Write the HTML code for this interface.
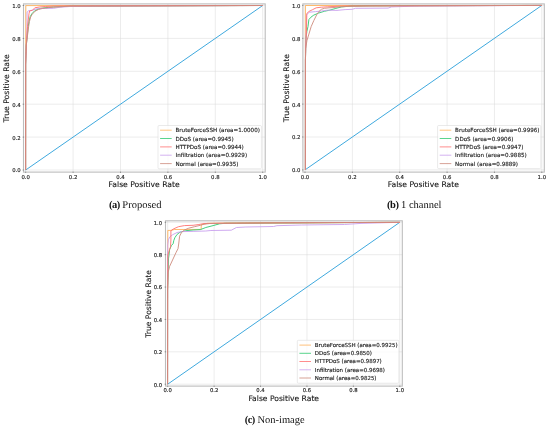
<!DOCTYPE html>
<html><head><meta charset="utf-8"><title>ROC curves</title>
<style>
html,body{margin:0;padding:0;background:#fff;}
body{width:550px;height:429px;position:relative;overflow:hidden;}
svg{position:absolute;left:0;top:0;filter:blur(0.35px);}
svg text{text-rendering:geometricPrecision;font-family:"DejaVu Sans","Liberation Sans",sans-serif;stroke:#222;stroke-width:0.14px;}svg text.lab{stroke-width:0.1px}
.cap{position:absolute;text-rendering:geometricPrecision;text-align:center;font-family:"Liberation Serif","DejaVu Serif",serif;font-size:10.5px;line-height:12px;color:#111;white-space:nowrap;letter-spacing:0px}
.cap b{letter-spacing:-0.5px}
</style></head><body>
<svg width="550" height="429" viewBox="0 0 550 429">
<line x1="25.70" y1="3.90" x2="25.70" y2="172.10" stroke="#d9d9d9" stroke-width="0.5"/>
<line x1="23.50" y1="170.00" x2="265.20" y2="170.00" stroke="#d9d9d9" stroke-width="0.5"/>
<line x1="73.10" y1="3.90" x2="73.10" y2="172.10" stroke="#d9d9d9" stroke-width="0.5"/>
<line x1="23.50" y1="137.10" x2="265.20" y2="137.10" stroke="#d9d9d9" stroke-width="0.5"/>
<line x1="120.50" y1="3.90" x2="120.50" y2="172.10" stroke="#d9d9d9" stroke-width="0.5"/>
<line x1="23.50" y1="104.20" x2="265.20" y2="104.20" stroke="#d9d9d9" stroke-width="0.5"/>
<line x1="167.90" y1="3.90" x2="167.90" y2="172.10" stroke="#d9d9d9" stroke-width="0.5"/>
<line x1="23.50" y1="71.30" x2="265.20" y2="71.30" stroke="#d9d9d9" stroke-width="0.5"/>
<line x1="215.30" y1="3.90" x2="215.30" y2="172.10" stroke="#d9d9d9" stroke-width="0.5"/>
<line x1="23.50" y1="38.40" x2="265.20" y2="38.40" stroke="#d9d9d9" stroke-width="0.5"/>
<line x1="262.70" y1="3.90" x2="262.70" y2="172.10" stroke="#d9d9d9" stroke-width="0.5"/>
<line x1="23.50" y1="5.50" x2="265.20" y2="5.50" stroke="#d9d9d9" stroke-width="0.5"/>
<line x1="25.70" y1="170.00" x2="262.70" y2="5.50" stroke="#3fa9de" stroke-width="1.0"/>
<polyline points="25.60,170.00 25.65,64.00 25.80,30.00 25.80,5.60 120.00,5.60 262.70,5.50" fill="none" stroke="#ffb25c" stroke-width="0.9" stroke-linejoin="round"/>
<polyline points="25.60,170.00 25.65,64.00 26.30,45.00 28.20,26.50 29.00,21.20 30.20,16.60 31.90,13.70 34.80,10.70 38.30,9.00 42.40,8.10 48.20,7.40 53.50,7.00 70.00,6.20 262.70,5.50" fill="none" stroke="#2fca6e" stroke-width="0.9" stroke-linejoin="round"/>
<polyline points="25.60,170.00 25.65,64.00 26.30,45.00 27.00,30.00 27.10,12.00 28.70,10.70 32.50,10.20 36.00,9.00 39.50,8.40 45.30,8.50 53.50,8.30 60.00,7.20 70.00,6.50 100.00,6.10 262.70,5.50" fill="none" stroke="#c9a0ee" stroke-width="0.9" stroke-linejoin="round"/>
<polyline points="25.60,170.00 25.65,64.00 26.30,45.00 27.50,26.50 29.00,13.70 29.60,11.00 32.50,10.20 34.80,7.80 39.50,7.00 45.30,6.50 53.50,6.10 70.00,5.90 262.70,5.50" fill="none" stroke="#ff7070" stroke-width="0.9" stroke-linejoin="round"/>
<polyline points="25.60,170.00 25.65,64.00 26.30,45.00 28.60,26.90 29.45,21.60 30.65,17.00 32.30,14.15 35.20,11.15 38.70,9.40 42.70,8.45 48.40,7.60 53.70,7.15 70.00,6.20 262.70,5.50" fill="none" stroke="#cd8a7c" stroke-width="0.9" stroke-linejoin="round"/>
<rect x="23.50" y="3.90" width="241.70" height="168.20" fill="none" stroke="#bcbcbc" stroke-width="1.1"/>
<line x1="25.70" y1="171.60" x2="25.70" y2="173.00" stroke="#555" stroke-width="0.5"/>
<line x1="22.60" y1="170.00" x2="24.00" y2="170.00" stroke="#555" stroke-width="0.5"/>
<text x="25.70" y="178.50" font-size="5.35" text-anchor="middle" fill="#222">0.0</text>
<text x="20.70" y="172.43" font-size="5.35" text-anchor="end" fill="#222">0.0</text>
<line x1="73.10" y1="171.60" x2="73.10" y2="173.00" stroke="#555" stroke-width="0.5"/>
<line x1="22.60" y1="137.10" x2="24.00" y2="137.10" stroke="#555" stroke-width="0.5"/>
<text x="73.10" y="178.50" font-size="5.35" text-anchor="middle" fill="#222">0.2</text>
<text x="20.70" y="139.53" font-size="5.35" text-anchor="end" fill="#222">0.2</text>
<line x1="120.50" y1="171.60" x2="120.50" y2="173.00" stroke="#555" stroke-width="0.5"/>
<line x1="22.60" y1="104.20" x2="24.00" y2="104.20" stroke="#555" stroke-width="0.5"/>
<text x="120.50" y="178.50" font-size="5.35" text-anchor="middle" fill="#222">0.4</text>
<text x="20.70" y="106.63" font-size="5.35" text-anchor="end" fill="#222">0.4</text>
<line x1="167.90" y1="171.60" x2="167.90" y2="173.00" stroke="#555" stroke-width="0.5"/>
<line x1="22.60" y1="71.30" x2="24.00" y2="71.30" stroke="#555" stroke-width="0.5"/>
<text x="167.90" y="178.50" font-size="5.35" text-anchor="middle" fill="#222">0.6</text>
<text x="20.70" y="73.73" font-size="5.35" text-anchor="end" fill="#222">0.6</text>
<line x1="215.30" y1="171.60" x2="215.30" y2="173.00" stroke="#555" stroke-width="0.5"/>
<line x1="22.60" y1="38.40" x2="24.00" y2="38.40" stroke="#555" stroke-width="0.5"/>
<text x="215.30" y="178.50" font-size="5.35" text-anchor="middle" fill="#222">0.8</text>
<text x="20.70" y="40.83" font-size="5.35" text-anchor="end" fill="#222">0.8</text>
<line x1="262.70" y1="171.60" x2="262.70" y2="173.00" stroke="#555" stroke-width="0.5"/>
<line x1="22.60" y1="5.50" x2="24.00" y2="5.50" stroke="#555" stroke-width="0.5"/>
<text x="262.70" y="178.50" font-size="5.35" text-anchor="middle" fill="#222">1.0</text>
<text x="20.70" y="7.93" font-size="5.35" text-anchor="end" fill="#222">1.0</text>
<text x="144.20" y="186.60" font-size="7.66" class="lab" text-anchor="middle" fill="#111">False Positive Rate</text>
<text transform="translate(9.00,88.35) rotate(-90)" font-size="7.66" class="lab" text-anchor="middle" fill="#111">True Positive Rate</text>
<rect x="158.00" y="125.50" width="103.40" height="43.30" rx="1" fill="#ffffff" fill-opacity="0.8" stroke="#d4d4d4" stroke-width="0.5"/>
<line x1="160.10" y1="130.20" x2="171.70" y2="130.20" stroke="#ffb25c" stroke-width="0.8"/>
<text x="175.50" y="132.21" font-size="5.58" fill="#222">BruteForceSSH (area=1.0000)</text>
<line x1="160.10" y1="138.50" x2="171.70" y2="138.50" stroke="#2fca6e" stroke-width="0.8"/>
<text x="175.50" y="140.51" font-size="5.58" fill="#222">DDoS (area=0.9945)</text>
<line x1="160.10" y1="146.90" x2="171.70" y2="146.90" stroke="#ff7070" stroke-width="0.8"/>
<text x="175.50" y="148.91" font-size="5.58" fill="#222">HTTPDoS (area=0.9944)</text>
<line x1="160.10" y1="155.20" x2="171.70" y2="155.20" stroke="#c9a0ee" stroke-width="0.8"/>
<text x="175.50" y="157.21" font-size="5.58" fill="#222">Infiltration (area=0.9929)</text>
<line x1="160.10" y1="163.60" x2="171.70" y2="163.60" stroke="#cd8a7c" stroke-width="0.8"/>
<text x="175.50" y="165.61" font-size="5.58" fill="#222">Normal (area=0.9935)</text>
<line x1="305.00" y1="3.90" x2="305.00" y2="172.10" stroke="#d9d9d9" stroke-width="0.5"/>
<line x1="302.90" y1="169.90" x2="544.30" y2="169.90" stroke="#d9d9d9" stroke-width="0.5"/>
<line x1="352.36" y1="3.90" x2="352.36" y2="172.10" stroke="#d9d9d9" stroke-width="0.5"/>
<line x1="302.90" y1="137.00" x2="544.30" y2="137.00" stroke="#d9d9d9" stroke-width="0.5"/>
<line x1="399.72" y1="3.90" x2="399.72" y2="172.10" stroke="#d9d9d9" stroke-width="0.5"/>
<line x1="302.90" y1="104.10" x2="544.30" y2="104.10" stroke="#d9d9d9" stroke-width="0.5"/>
<line x1="447.08" y1="3.90" x2="447.08" y2="172.10" stroke="#d9d9d9" stroke-width="0.5"/>
<line x1="302.90" y1="71.20" x2="544.30" y2="71.20" stroke="#d9d9d9" stroke-width="0.5"/>
<line x1="494.44" y1="3.90" x2="494.44" y2="172.10" stroke="#d9d9d9" stroke-width="0.5"/>
<line x1="302.90" y1="38.30" x2="544.30" y2="38.30" stroke="#d9d9d9" stroke-width="0.5"/>
<line x1="541.80" y1="3.90" x2="541.80" y2="172.10" stroke="#d9d9d9" stroke-width="0.5"/>
<line x1="302.90" y1="5.40" x2="544.30" y2="5.40" stroke="#d9d9d9" stroke-width="0.5"/>
<line x1="305.00" y1="169.90" x2="541.80" y2="5.40" stroke="#3fa9de" stroke-width="1.0"/>
<polyline points="305.40,169.90 305.45,60.00 305.40,30.00 305.40,5.50 400.00,5.50 541.80,5.40" fill="none" stroke="#ffb25c" stroke-width="0.9" stroke-linejoin="round"/>
<polyline points="305.40,169.90 305.45,60.00 305.70,48.30 306.00,38.00 306.90,31.50 308.00,26.50 308.90,19.50 310.90,17.20 313.80,15.10 318.50,13.10 324.30,11.30 330.00,10.10 335.80,8.40 341.60,6.90 351.00,6.10 365.00,5.90 541.80,5.40" fill="none" stroke="#2fca6e" stroke-width="0.9" stroke-linejoin="round"/>
<polyline points="305.40,169.90 305.45,60.00 305.70,48.30 306.30,30.00 306.40,15.40 307.40,13.70 309.70,12.20 315.60,11.60 321.40,11.00 327.20,10.20 333.00,10.30 337.00,10.40 345.10,9.60 352.10,9.30 355.60,8.30 388.10,8.10 391.60,6.90 416.00,6.10 541.80,5.40" fill="none" stroke="#c9a0ee" stroke-width="0.9" stroke-linejoin="round"/>
<polyline points="305.40,169.90 305.45,60.00 305.70,48.30 306.50,30.00 306.80,13.70 308.60,11.60 312.70,9.60 316.20,7.80 321.40,7.20 327.20,6.80 333.00,6.50 345.00,6.00 541.80,5.40" fill="none" stroke="#ff7070" stroke-width="0.9" stroke-linejoin="round"/>
<polyline points="305.40,169.90 305.45,60.00 305.70,48.30 306.90,40.80 308.30,36.10 311.20,26.50 313.80,20.60 316.70,14.80 319.10,11.30 321.40,9.30 324.30,8.30 329.00,7.80 333.00,7.60 338.20,7.00 349.00,6.30 370.00,5.90 541.80,5.40" fill="none" stroke="#cd8a7c" stroke-width="0.9" stroke-linejoin="round"/>
<rect x="302.90" y="3.90" width="241.40" height="168.20" fill="none" stroke="#bcbcbc" stroke-width="1.1"/>
<line x1="305.00" y1="171.60" x2="305.00" y2="173.00" stroke="#555" stroke-width="0.5"/>
<line x1="302.00" y1="169.90" x2="303.40" y2="169.90" stroke="#555" stroke-width="0.5"/>
<text x="305.00" y="178.60" font-size="5.35" text-anchor="middle" fill="#222">0.0</text>
<text x="300.40" y="172.33" font-size="5.35" text-anchor="end" fill="#222">0.0</text>
<line x1="352.36" y1="171.60" x2="352.36" y2="173.00" stroke="#555" stroke-width="0.5"/>
<line x1="302.00" y1="137.00" x2="303.40" y2="137.00" stroke="#555" stroke-width="0.5"/>
<text x="352.36" y="178.60" font-size="5.35" text-anchor="middle" fill="#222">0.2</text>
<text x="300.40" y="139.43" font-size="5.35" text-anchor="end" fill="#222">0.2</text>
<line x1="399.72" y1="171.60" x2="399.72" y2="173.00" stroke="#555" stroke-width="0.5"/>
<line x1="302.00" y1="104.10" x2="303.40" y2="104.10" stroke="#555" stroke-width="0.5"/>
<text x="399.72" y="178.60" font-size="5.35" text-anchor="middle" fill="#222">0.4</text>
<text x="300.40" y="106.53" font-size="5.35" text-anchor="end" fill="#222">0.4</text>
<line x1="447.08" y1="171.60" x2="447.08" y2="173.00" stroke="#555" stroke-width="0.5"/>
<line x1="302.00" y1="71.20" x2="303.40" y2="71.20" stroke="#555" stroke-width="0.5"/>
<text x="447.08" y="178.60" font-size="5.35" text-anchor="middle" fill="#222">0.6</text>
<text x="300.40" y="73.63" font-size="5.35" text-anchor="end" fill="#222">0.6</text>
<line x1="494.44" y1="171.60" x2="494.44" y2="173.00" stroke="#555" stroke-width="0.5"/>
<line x1="302.00" y1="38.30" x2="303.40" y2="38.30" stroke="#555" stroke-width="0.5"/>
<text x="494.44" y="178.60" font-size="5.35" text-anchor="middle" fill="#222">0.8</text>
<text x="300.40" y="40.73" font-size="5.35" text-anchor="end" fill="#222">0.8</text>
<line x1="541.80" y1="171.60" x2="541.80" y2="173.00" stroke="#555" stroke-width="0.5"/>
<line x1="302.00" y1="5.40" x2="303.40" y2="5.40" stroke="#555" stroke-width="0.5"/>
<text x="541.80" y="178.60" font-size="5.35" text-anchor="middle" fill="#222">1.0</text>
<text x="300.40" y="7.83" font-size="5.35" text-anchor="end" fill="#222">1.0</text>
<text x="423.40" y="186.60" font-size="7.66" class="lab" text-anchor="middle" fill="#111">False Positive Rate</text>
<text transform="translate(288.80,88.25) rotate(-90)" font-size="7.66" class="lab" text-anchor="middle" fill="#111">True Positive Rate</text>
<rect x="437.60" y="125.50" width="103.20" height="43.10" rx="1" fill="#ffffff" fill-opacity="0.8" stroke="#d4d4d4" stroke-width="0.5"/>
<line x1="439.70" y1="130.20" x2="451.30" y2="130.20" stroke="#ffb25c" stroke-width="0.8"/>
<text x="455.10" y="132.21" font-size="5.58" fill="#222">BruteForceSSH (area=0.9996)</text>
<line x1="439.70" y1="138.50" x2="451.30" y2="138.50" stroke="#2fca6e" stroke-width="0.8"/>
<text x="455.10" y="140.51" font-size="5.58" fill="#222">DDoS (area=0.9906)</text>
<line x1="439.70" y1="146.90" x2="451.30" y2="146.90" stroke="#ff7070" stroke-width="0.8"/>
<text x="455.10" y="148.91" font-size="5.58" fill="#222">HTTPDoS (area=0.9947)</text>
<line x1="439.70" y1="155.20" x2="451.30" y2="155.20" stroke="#c9a0ee" stroke-width="0.8"/>
<text x="455.10" y="157.21" font-size="5.58" fill="#222">Infiltration (area=0.9885)</text>
<line x1="439.70" y1="163.60" x2="451.30" y2="163.60" stroke="#cd8a7c" stroke-width="0.8"/>
<text x="455.10" y="165.61" font-size="5.58" fill="#222">Normal (area=0.9889)</text>
<line x1="167.70" y1="220.80" x2="167.70" y2="386.10" stroke="#d9d9d9" stroke-width="0.5"/>
<line x1="165.50" y1="384.20" x2="402.30" y2="384.20" stroke="#d9d9d9" stroke-width="0.5"/>
<line x1="214.12" y1="220.80" x2="214.12" y2="386.10" stroke="#d9d9d9" stroke-width="0.5"/>
<line x1="165.50" y1="351.82" x2="402.30" y2="351.82" stroke="#d9d9d9" stroke-width="0.5"/>
<line x1="260.54" y1="220.80" x2="260.54" y2="386.10" stroke="#d9d9d9" stroke-width="0.5"/>
<line x1="165.50" y1="319.44" x2="402.30" y2="319.44" stroke="#d9d9d9" stroke-width="0.5"/>
<line x1="306.96" y1="220.80" x2="306.96" y2="386.10" stroke="#d9d9d9" stroke-width="0.5"/>
<line x1="165.50" y1="287.06" x2="402.30" y2="287.06" stroke="#d9d9d9" stroke-width="0.5"/>
<line x1="353.38" y1="220.80" x2="353.38" y2="386.10" stroke="#d9d9d9" stroke-width="0.5"/>
<line x1="165.50" y1="254.68" x2="402.30" y2="254.68" stroke="#d9d9d9" stroke-width="0.5"/>
<line x1="399.80" y1="220.80" x2="399.80" y2="386.10" stroke="#d9d9d9" stroke-width="0.5"/>
<line x1="165.50" y1="222.30" x2="402.30" y2="222.30" stroke="#d9d9d9" stroke-width="0.5"/>
<line x1="167.70" y1="384.20" x2="399.80" y2="222.30" stroke="#3fa9de" stroke-width="1.0"/>
<polyline points="167.55,384.20 167.60,290.00 167.80,230.40 171.30,230.40 174.20,229.50 201.10,229.40 201.30,224.70 207.30,223.30 230.00,223.00 399.80,222.30" fill="none" stroke="#ffb25c" stroke-width="0.9" stroke-linejoin="round"/>
<polyline points="167.55,384.20 167.60,290.00 168.50,258.90 169.60,249.60 171.50,245.40 173.10,243.80 173.80,240.50 174.90,237.60 177.10,234.40 180.00,232.20 185.80,230.70 193.10,230.00 200.40,229.60 205.80,227.50 213.10,225.60 219.60,223.80 225.00,223.30 399.80,222.30" fill="none" stroke="#2fca6e" stroke-width="0.9" stroke-linejoin="round"/>
<polyline points="167.55,384.20 167.60,290.00 167.70,245.00 168.40,239.80 169.80,236.90 172.70,234.70 177.10,232.50 182.20,231.60 193.10,231.40 205.80,231.00 210.90,230.50 231.30,230.20 236.40,227.50 245.80,227.00 273.60,226.50 276.90,225.70 301.50,225.00 326.00,224.70 344.50,224.50 361.00,223.40 385.50,222.70 399.80,222.30" fill="none" stroke="#c9a0ee" stroke-width="0.9" stroke-linejoin="round"/>
<polyline points="167.55,384.20 167.60,290.00 167.90,255.00 170.50,246.80 170.90,240.00 170.90,230.70 173.50,228.90 178.50,226.70 184.40,225.60 193.10,225.30 198.90,224.50 204.00,223.50 213.80,223.40 270.00,222.90 399.80,222.30" fill="none" stroke="#ff7070" stroke-width="0.9" stroke-linejoin="round"/>
<polyline points="167.55,384.20 167.60,290.00 168.20,272.00 169.60,266.40 176.10,252.40 178.00,248.70 178.70,244.00 179.60,236.20 181.50,232.50 184.40,230.00 188.70,228.20 194.50,226.70 200.40,225.30 204.00,224.20 210.00,223.50 225.00,223.20 399.80,222.30" fill="none" stroke="#cd8a7c" stroke-width="0.9" stroke-linejoin="round"/>
<rect x="165.50" y="220.80" width="236.80" height="165.30" fill="none" stroke="#bcbcbc" stroke-width="1.1"/>
<line x1="167.70" y1="385.60" x2="167.70" y2="387.00" stroke="#555" stroke-width="0.5"/>
<line x1="164.60" y1="384.20" x2="166.00" y2="384.20" stroke="#555" stroke-width="0.5"/>
<text x="167.70" y="392.45" font-size="5.3" text-anchor="middle" fill="#222">0.0</text>
<text x="162.10" y="386.61" font-size="5.3" text-anchor="end" fill="#222">0.0</text>
<line x1="214.12" y1="385.60" x2="214.12" y2="387.00" stroke="#555" stroke-width="0.5"/>
<line x1="164.60" y1="351.82" x2="166.00" y2="351.82" stroke="#555" stroke-width="0.5"/>
<text x="214.12" y="392.45" font-size="5.3" text-anchor="middle" fill="#222">0.2</text>
<text x="162.10" y="354.23" font-size="5.3" text-anchor="end" fill="#222">0.2</text>
<line x1="260.54" y1="385.60" x2="260.54" y2="387.00" stroke="#555" stroke-width="0.5"/>
<line x1="164.60" y1="319.44" x2="166.00" y2="319.44" stroke="#555" stroke-width="0.5"/>
<text x="260.54" y="392.45" font-size="5.3" text-anchor="middle" fill="#222">0.4</text>
<text x="162.10" y="321.85" font-size="5.3" text-anchor="end" fill="#222">0.4</text>
<line x1="306.96" y1="385.60" x2="306.96" y2="387.00" stroke="#555" stroke-width="0.5"/>
<line x1="164.60" y1="287.06" x2="166.00" y2="287.06" stroke="#555" stroke-width="0.5"/>
<text x="306.96" y="392.45" font-size="5.3" text-anchor="middle" fill="#222">0.6</text>
<text x="162.10" y="289.47" font-size="5.3" text-anchor="end" fill="#222">0.6</text>
<line x1="353.38" y1="385.60" x2="353.38" y2="387.00" stroke="#555" stroke-width="0.5"/>
<line x1="164.60" y1="254.68" x2="166.00" y2="254.68" stroke="#555" stroke-width="0.5"/>
<text x="353.38" y="392.45" font-size="5.3" text-anchor="middle" fill="#222">0.8</text>
<text x="162.10" y="257.09" font-size="5.3" text-anchor="end" fill="#222">0.8</text>
<line x1="399.80" y1="385.60" x2="399.80" y2="387.00" stroke="#555" stroke-width="0.5"/>
<line x1="164.60" y1="222.30" x2="166.00" y2="222.30" stroke="#555" stroke-width="0.5"/>
<text x="399.80" y="392.45" font-size="5.3" text-anchor="middle" fill="#222">1.0</text>
<text x="162.10" y="224.71" font-size="5.3" text-anchor="end" fill="#222">1.0</text>
<text x="283.75" y="400.50" font-size="7.6" class="lab" text-anchor="middle" fill="#111">False Positive Rate</text>
<text transform="translate(151.40,303.85) rotate(-90)" font-size="7.6" class="lab" text-anchor="middle" fill="#111">True Positive Rate</text>
<rect x="297.30" y="340.30" width="101.60" height="42.90" rx="1" fill="#ffffff" fill-opacity="0.8" stroke="#d4d4d4" stroke-width="0.5"/>
<line x1="299.40" y1="345.10" x2="311.00" y2="345.10" stroke="#ffb25c" stroke-width="0.8"/>
<text x="314.80" y="347.07" font-size="5.47" fill="#222">BruteForceSSH (area=0.9925)</text>
<line x1="299.40" y1="353.30" x2="311.00" y2="353.30" stroke="#2fca6e" stroke-width="0.8"/>
<text x="314.80" y="355.27" font-size="5.47" fill="#222">DDoS (area=0.9850)</text>
<line x1="299.40" y1="361.50" x2="311.00" y2="361.50" stroke="#ff7070" stroke-width="0.8"/>
<text x="314.80" y="363.47" font-size="5.47" fill="#222">HTTPDoS (area=0.9897)</text>
<line x1="299.40" y1="369.80" x2="311.00" y2="369.80" stroke="#c9a0ee" stroke-width="0.8"/>
<text x="314.80" y="371.77" font-size="5.47" fill="#222">Infiltration (area=0.9698)</text>
<line x1="299.40" y1="378.00" x2="311.00" y2="378.00" stroke="#cd8a7c" stroke-width="0.8"/>
<text x="314.80" y="379.97" font-size="5.47" fill="#222">Normal (area=0.9825)</text>
</svg>
<div class="cap" style="left:35.2px;top:199.8px;width:200.0px"><b>(a)</b> Proposed</div>
<div class="cap" style="left:314.3px;top:199.8px;width:200.0px"><b>(b)</b> 1 channel</div>
<div class="cap" style="left:174.7px;top:414.9px;width:200.0px"><b>(c)</b> Non-image</div>

</body></html>
